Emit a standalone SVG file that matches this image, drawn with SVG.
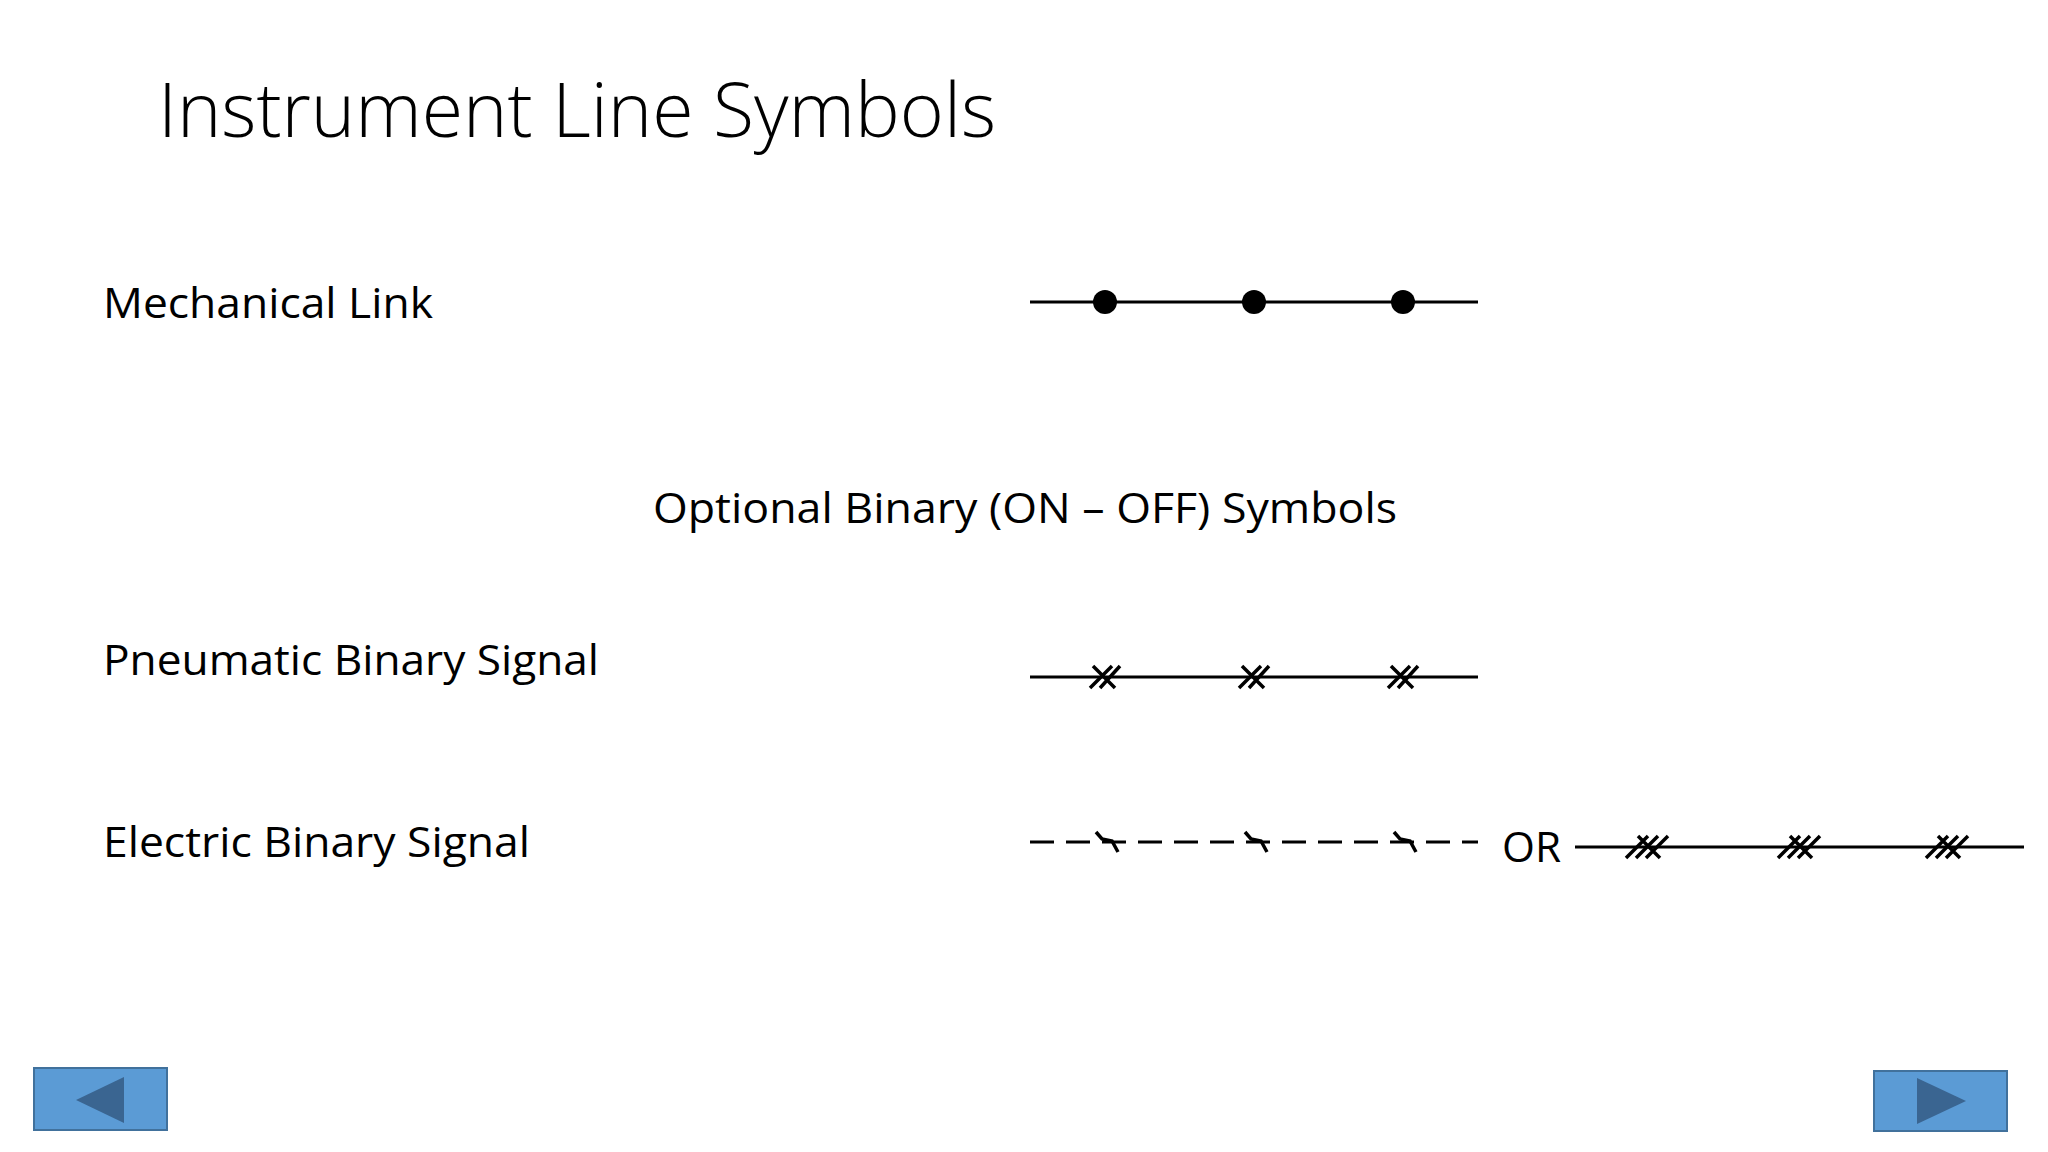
<svg xmlns="http://www.w3.org/2000/svg" width="2048" height="1152" viewBox="0 0 2048 1152">
<style>
text{font-family:"Open Sans","Liberation Sans",sans-serif;fill:#000}
.lbl{font-size:42px}
.ln{stroke:#000;stroke-width:3;fill:none}
.mk{stroke:#000;stroke-width:3.5;fill:none}
.btn{fill:#5b9bd5;stroke:#41719c;stroke-width:2}
.tri{fill:#3a6591}
</style>
<defs>
<path id="pm" class="mk" d="M-12,-11 L10,11 M-15,11 L7,-11 M-5,11 L15,-11"/>
<path id="em" class="mk" d="M-10,-11 L12,11 M-22,11 L0,-11 M-12,11 L10,-11 M-2,11 L20,-11"/>
</defs>
<rect width="2048" height="1152" fill="#fff"/>
<g id="title"><text x="158" y="137" font-size="76" font-weight="300" textLength="838" lengthAdjust="spacingAndGlyphs">Instrument Line Symbols</text></g>
<g id="labels">
<text class="lbl" x="103" y="318" textLength="330" lengthAdjust="spacingAndGlyphs">Mechanical Link</text>
<text class="lbl" x="653" y="523" textLength="744" lengthAdjust="spacingAndGlyphs">Optional Binary (ON – OFF) Symbols</text>
<text class="lbl" x="103" y="675" textLength="496" lengthAdjust="spacingAndGlyphs">Pneumatic Binary Signal</text>
<text class="lbl" x="103" y="857" textLength="427" lengthAdjust="spacingAndGlyphs">Electric Binary Signal</text>
<text class="lbl" x="1502" y="862" textLength="59" lengthAdjust="spacingAndGlyphs">OR</text>
</g>
<g id="connectors">
<g id="mechanical">
<line class="ln" x1="1030" y1="302" x2="1478" y2="302"/>
<circle cx="1105" cy="302" r="12"/><circle cx="1254" cy="302" r="12"/><circle cx="1403" cy="302" r="12"/>
</g>
<g id="pneumatic">
<line class="ln" x1="1030" y1="677" x2="1478" y2="677"/>
<use href="#pm" x="1105" y="677"/><use href="#pm" x="1254" y="677"/><use href="#pm" x="1403" y="677"/>
</g>
<g id="electric">
<line class="ln" x1="1030" y1="842" x2="1478" y2="842" stroke-width="5" stroke-dasharray="24,12"/>
<path class="mk" stroke-width="4.5" d="M1096,832 L1102,839 L1112,841 L1118,852 M1245,832 L1251,839 L1261,841 L1267,852 M1394,832 L1400,839 L1410,841 L1416,852"/>
</g>
<g id="electric-alt">
<line class="ln" x1="1575" y1="847" x2="2024" y2="847"/>
<use href="#em" x="1648" y="847"/><use href="#em" x="1800" y="847"/><use href="#em" x="1948" y="847"/>
</g>
</g>
<g id="btn-prev"><rect class="btn" x="34" y="1068" width="133" height="62"/><polygon class="tri" points="76,1100 124,1077 124,1123"/></g>
<g id="btn-next"><rect class="btn" x="1874" y="1071" width="133" height="60"/><polygon class="tri" points="1966,1101 1917,1078 1917,1124"/></g>
</svg>
